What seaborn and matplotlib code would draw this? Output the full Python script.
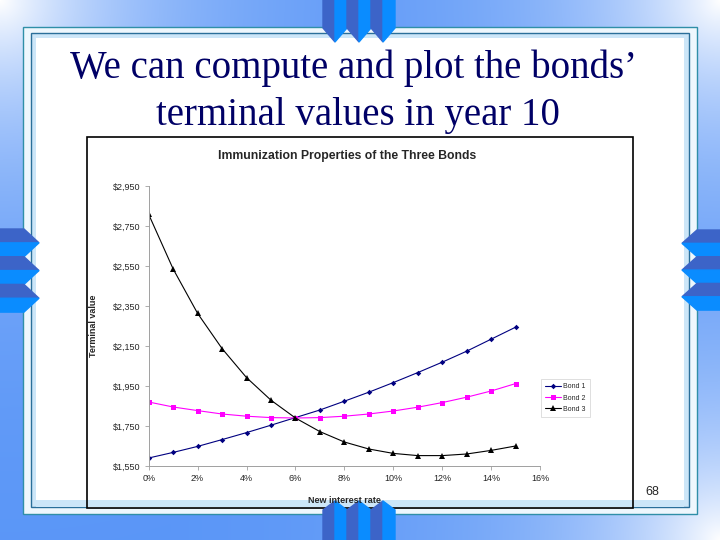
import numpy as np
import pandas as pd
import seaborn as sns
import matplotlib.pyplot as plt
from matplotlib.patches import Polygon, Rectangle
from matplotlib.ticker import FuncFormatter

# values (terminal value in year 10 vs new interest rate)
rates = list(range(16))
bond1 = [1590, 1618, 1648, 1682, 1717, 1754, 1792, 1830, 1874, 1919,
         1967, 2017, 2069, 2124, 2184, 2244]
bond2 = [1870, 1845, 1827, 1810, 1799, 1792, 1790, 1792, 1799, 1810,
         1825, 1844, 1867, 1894, 1925, 1962]
bond3 = [2808, 2535, 2313, 2137, 1992, 1879, 1790, 1722, 1670, 1635,
         1613, 1602, 1602, 1610, 1628, 1650]
bond_names = ['Bond 1', 'Bond 2', 'Bond 3']
x_ticks = list(range(0, 17, 2))
y_ticks = list(range(1550, 2951, 200))

df = pd.DataFrame({
    'rate': rates * 3,
    'value': bond1 + bond2 + bond3,
    'bond': np.repeat(bond_names, len(rates)),
})

sns.set_style('white')
plt.rcParams['font.family'] = ['Liberation Sans', 'DejaVu Sans']

fig = plt.figure(figsize=(7.2, 5.4), dpi=100)

# ---- slide background -------------------------------------------------
bg = fig.add_axes([0, 0, 1, 1], zorder=0)
bg.set_xlim(0, 720)
bg.set_ylim(540, 0)
bg.axis('off')

gx, gy = np.meshgrid(np.arange(720), np.arange(540))
r = 150.0
white = np.maximum.reduce([
    np.exp(-np.hypot(gx, gy) / r),
    np.exp(-np.hypot(gx - 720, gy) / r),
    np.exp(-np.hypot(gx - 720, gy - 540) / r),
])
blue = np.array([0.34, 0.58, 0.97])
img = white[..., None] * 1.0 + (1 - white[..., None]) * blue
bg.imshow(img, extent=(0, 720, 540, 0), aspect='auto', zorder=0)

bg.add_patch(Rectangle((23, 27), 674, 487, facecolor='#eef7fd',
                       edgecolor='#2f8fa8', lw=1.0, zorder=1))
bg.add_patch(Rectangle((31, 33), 658, 474, facecolor='#cce6f8',
                       edgecolor='#2a6f9a', lw=1.0, zorder=2))
bg.add_patch(Rectangle((36, 38), 648, 462, facecolor='white',
                       edgecolor='none', zorder=3))

# chart box
bg.add_patch(Rectangle((87, 137), 546, 371, facecolor='white',
                       edgecolor='none', zorder=4))
bg.add_patch(Rectangle((36, 500), 648, 7, facecolor='#cce6f8',
                       edgecolor='none', zorder=5))
bg.add_patch(Rectangle((87, 137), 546, 371, facecolor='none',
                       edgecolor='black', lw=1.2, zorder=6))

dark, bright = '#3c64c8', '#0a8cff'
for i in range(3):
    x0 = 323 + 24 * i
    xm, x1 = x0 + 12, x0 + 24
    # top arrows
    bg.add_patch(Polygon([(x0, 0), (xm, 0), (xm, 42), (x0, 28)], color=dark, zorder=7))
    bg.add_patch(Polygon([(xm, 0), (x1, 0), (x1, 28), (xm, 42)], color=bright, zorder=7))
    # bottom arrows
    bg.add_patch(Polygon([(x0, 540), (xm, 540), (xm, 501), (x0, 510)], color=dark, zorder=7))
    bg.add_patch(Polygon([(xm, 540), (x1, 540), (x1, 510), (xm, 501)], color=bright, zorder=7))
    # left arrows
    y0 = 229 + 27.7 * i
    ym, y1 = y0 + 13.85, y0 + 27.7
    bg.add_patch(Polygon([(0, y0), (24, y0), (39, ym), (0, ym)], color=dark, zorder=7))
    bg.add_patch(Polygon([(0, ym), (39, ym), (24, y1), (0, y1)], color=bright, zorder=7))
    # right arrows
    y0 = 230 + 26.7 * i
    ym, y1 = y0 + 13.35, y0 + 26.7
    bg.add_patch(Polygon([(720, y0), (697, y0), (682, ym), (720, ym)], color=dark, zorder=7))
    bg.add_patch(Polygon([(720, ym), (682, ym), (697, y1), (720, y1)], color=bright, zorder=7))

# slide title and page number
fig.text(353 / 720, 1 - 68 / 540, 'We can compute and plot the bonds\u2019',
         family=['Liberation Serif', 'DejaVu Serif'], fontsize=28,
         color='#000066', ha='center', va='center')
fig.text(358 / 720, 1 - 115 / 540, 'terminal values in year 10',
         family=['Liberation Serif', 'DejaVu Serif'], fontsize=28,
         color='#000066', ha='center', va='center')
fig.text(652 / 720, 1 - 492 / 540, '68', fontsize=9, ha='center', va='center')

# ---- the chart --------------------------------------------------------
ax = fig.add_axes([148.7 / 720, 74 / 540, 391.3 / 720, 280 / 540], zorder=2)
ax.patch.set_alpha(0)

palette = {'Bond 1': '#000080', 'Bond 2': '#ff00ff', 'Bond 3': '#000000'}
markers = {'Bond 1': 'D', 'Bond 2': 's', 'Bond 3': '^'}
msizes = {'Bond 1': 2.8, 'Bond 2': 3.6, 'Bond 3': 3.8}
for name in bond_names:
    sns.lineplot(data=df[df['bond'] == name], x='rate', y='value',
                 color=palette[name], marker=markers[name],
                 markersize=msizes[name], markeredgewidth=0,
                 lw=0.8, label=name, ax=ax)

ax.set_xlim(0, 16)
ax.set_ylim(1550, 2950)
ax.set_xticks(x_ticks)
ax.set_yticks(y_ticks)
ax.xaxis.set_major_formatter(FuncFormatter(lambda v, p: f'{v:.0f}%'))
ax.yaxis.set_major_formatter(FuncFormatter(lambda v, p: f'${v:,.0f}'))
ax.tick_params(axis='both', which='both', direction='out', length=3,
               width=0.6, color='#a0a0a0', labelsize=6.5, pad=3,
               bottom=True, left=True)
for side in ['top', 'right']:
    ax.spines[side].set_visible(False)
for side in ['left', 'bottom']:
    ax.spines[side].set_color('#a0a0a0')
    ax.spines[side].set_linewidth(0.7)

ax.set_xlabel('New interest rate', fontsize=6.5, fontweight='bold')
ax.set_ylabel('Terminal value', fontsize=6.5, fontweight='bold')
ax.xaxis.set_label_coords(0.5, -(496 - 466) / 280)
ax.yaxis.set_label_coords(-(148.7 - 98) / 391.3, 0.5)

fig.text(347 / 720, 1 - 156 / 540, 'Immunization Properties of the Three Bonds',
         fontsize=8.8, fontweight='bold', ha='center', va='center', zorder=10)

leg = ax.legend(loc='center', bbox_to_anchor=(565.5 / 720, 1 - 398 / 540),
                bbox_transform=fig.transFigure, fontsize=5, frameon=True,
                fancybox=False, handlelength=2.2, borderpad=0.6,
                labelspacing=0.6, handletextpad=0.4)
leg.get_frame().set_edgecolor('#d0d0d0')
leg.get_frame().set_linewidth(0.6)

fig.savefig('out.png', dpi=100)
